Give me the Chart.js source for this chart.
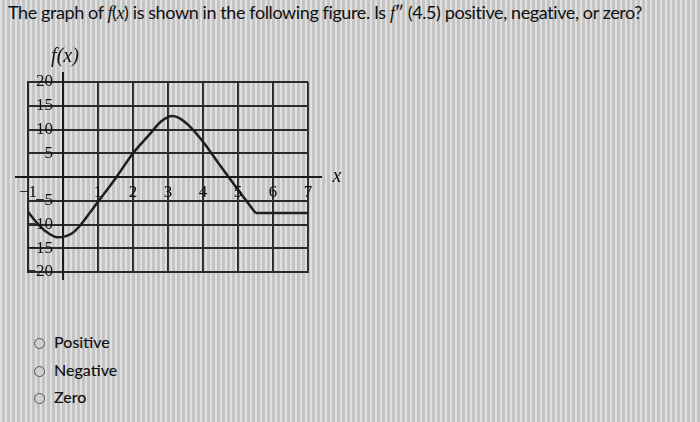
<!DOCTYPE html>
<html>

<head>
    <title>f(x) graph</title>
    <script src="https://cdn.jsdelivr.net/npm/chart.js"></script>
    <style>
        body {
            margin: 0;
            width: 700px;
            height: 422px;
            overflow: hidden;
            font-family: Lato, "Open Sans", sans-serif;
            color: #111;
            background: repeating-linear-gradient(90deg, #e0e0e0 0px, #e0e0e0 2px, #c4c4c4 2px, #c4c4c4 5px);
        }

        .question {
            position: absolute;
            left: 8px;
            top: 1px;
            font-size: 18px;
            white-space: nowrap;
            letter-spacing: -0.4px;
        }

        .question i {
            font-family: "Liberation Serif", serif;
        }

        .chart-box {
            position: absolute;
            left: 0;
            top: 40px;
        }

        .option {
            position: absolute;
            left: 34px;
            font-size: 16px;
            font-weight: 500;
        }

        .option span {
            display: inline-block;
            width: 9px;
            height: 9px;
            border: 1.5px solid #555;
            border-radius: 50%;
            background: #cfcfcf;
            margin-right: 9px;
            vertical-align: -1px;
        }
    </style>
</head>

<body>
    <div class="question">The graph of <i>f</i>(<i>x</i>) is shown in the following figure. Is <i>f</i>″ (4.5) positive, negative, or zero?</div>

    <div class="chart-box">
        <canvas id="graph" width="360" height="260"></canvas>
    </div>

    <div class="option" style="top: 332px;"><span></span>Positive</div>
    <div class="option" style="top: 360px;"><span></span>Negative</div>
    <div class="option" style="top: 387px;"><span></span>Zero</div>

    <script>
        // values
        var curveX = [-1, -0.75, -0.5, -0.15, 0.25, 0.5, 0.75, 1, 1.5, 2, 2.5, 2.8, 3.13, 3.35, 3.6, 4, 4.5, 5, 5.5];
        var curveY = [-7.3, -9.6, -11.4, -12.7, -11.9, -10.1, -7.7, -5.2, -0.3, 5, 9.2, 11.7, 12.85, 12.3, 10.8, 7.4, 2.3, -2.7, -7.6];
        var flatX = [5.5, 7];
        var flatY = [-7.6, -7.6];

        var xTicks = [-1, 1, 2, 3, 4, 5, 6, 7];
        var yTicks = [20, 15, 10, 5, -5, -10, -15, -20];

        function toPoints(xs, ys) {
            var pts = [];
            for (var i = 0; i < xs.length; i++) {
                pts.push({ x: xs[i], y: ys[i] });
            }
            return pts;
        }

        // axes through the origin, tick labels and axis names
        var axesPlugin = {
            id: 'axes',
            afterDatasetsDraw: function (chart) {
                var ctx = chart.ctx;
                var xs = chart.scales.x;
                var ys = chart.scales.y;
                var area = chart.chartArea;
                var x0 = xs.getPixelForValue(0);
                var y0 = ys.getPixelForValue(0);

                ctx.save();
                ctx.strokeStyle = '#1a1a1a';
                ctx.lineWidth = 2;
                ctx.beginPath();
                ctx.moveTo(area.left - 13, y0);
                ctx.lineTo(area.right + 14, y0);
                ctx.moveTo(x0, area.top - 10);
                ctx.lineTo(x0, area.bottom + 8);
                ctx.stroke();

                ctx.fillStyle = '#111';
                ctx.font = '17px "Liberation Serif", serif';
                ctx.textBaseline = 'middle';
                ctx.textAlign = 'center';
                xTicks.forEach(function (v) {
                    ctx.fillText(v < 0 ? '\u2212' + (-v) : String(v), xs.getPixelForValue(v), y0 + 16);
                });
                ctx.textAlign = 'right';
                yTicks.forEach(function (v) {
                    ctx.fillText(v < 0 ? '\u2212' + (-v) : String(v), x0 - 10, ys.getPixelForValue(v));
                });

                ctx.font = 'italic 20px "Liberation Serif", serif';
                ctx.textAlign = 'center';
                ctx.fillText('f(x)', x0 + 2, area.top - 25);
                ctx.fillText('x', area.right + 29, y0);
                ctx.restore();
            }
        };

        var graphCtx = document.getElementById('graph').getContext('2d');
        var graph = new Chart(graphCtx, {
            type: 'line',
            data: {
                datasets: [{
                    data: toPoints(curveX, curveY),
                    borderColor: '#1e1e1e',
                    borderWidth: 2.5,
                    pointRadius: 0,
                    cubicInterpolationMode: 'monotone',
                    fill: false
                }, {
                    data: toPoints(flatX, flatY),
                    borderColor: '#1e1e1e',
                    borderWidth: 2.5,
                    pointRadius: 0,
                    tension: 0,
                    fill: false
                }]
            },
            options: {
                responsive: false,
                animation: false,
                layout: {
                    padding: { left: 28, right: 52, top: 42, bottom: 28 }
                },
                plugins: {
                    legend: { display: false },
                    tooltip: { enabled: false }
                },
                scales: {
                    x: {
                        type: 'linear',
                        min: -1,
                        max: 7,
                        ticks: { display: false, stepSize: 1 },
                        grid: { color: '#2a2a2a', lineWidth: 1.9, drawTicks: false },
                        border: { color: '#2a2a2a', width: 1.9 }
                    },
                    y: {
                        min: -20,
                        max: 20,
                        ticks: { display: false, stepSize: 5 },
                        grid: { color: '#2a2a2a', lineWidth: 1.9, drawTicks: false },
                        border: { color: '#2a2a2a', width: 1.9 }
                    }
                }
            },
            plugins: [axesPlugin]
        });
    </script>
</body>

</html>
